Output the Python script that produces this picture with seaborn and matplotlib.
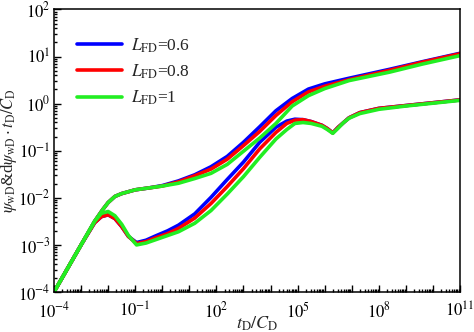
import numpy as np
import pandas as pd
import matplotlib
matplotlib.use("Agg")
import matplotlib.pyplot as plt
import seaborn as sns
from matplotlib.ticker import FixedLocator, FixedFormatter, LogLocator, NullFormatter

sns.set_style("white")
plt.rcParams['font.family'] = ['Liberation Serif', 'DejaVu Serif']
plt.rcParams['mathtext.fontset'] = 'stix'

# ---- data (log10 values) ----
L_values = ["0.6", "0.8", "1"]
colors = ["#0000ff", "#ff0000", "#22ee22"]

p_tlog = [-4, -3, -2.5, -2.2, -2.0, -1.75, -1.5, -1.25, -1.0, -0.5, 0.0, 0.6,
          1.2, 1.8, 2.4, 3.0, 3.6, 4.2, 4.8, 5.4, 6.0, 6.9, 8.4, 9.6, 11.0]
p_06 = [-4, -3, -2.5, -2.25, -2.10, -1.97, -1.91, -1.87, -1.83, -1.79, -1.74, -1.64,
        -1.51, -1.34, -1.12, -0.82, -0.49, -0.15, 0.11, 0.31, 0.42, 0.54, 0.73, 0.89, 1.07]
p_08 = [-4, -3, -2.5, -2.25, -2.10, -1.97, -1.91, -1.87, -1.83, -1.79, -1.75, -1.66,
        -1.53, -1.39, -1.18, -0.89, -0.59, -0.25, 0.04, 0.25, 0.37, 0.51, 0.71, 0.88, 1.06]
p_10 = [-4, -3, -2.5, -2.25, -2.10, -1.97, -1.91, -1.87, -1.83, -1.79, -1.75, -1.69,
        -1.59, -1.48, -1.29, -1.01, -0.73, -0.42, -0.05, 0.17, 0.32, 0.49, 0.67, 0.84, 1.02]

d_tlog = [-4, -3, -2.5, -2.25, -2.0, -1.75, -1.5, -1.25, -0.95, -0.6, -0.25, 0.2, 0.6,
          1.2, 1.8, 2.4, 3.0, 3.6, 4.2, 4.6, 4.9, 5.2, 5.5, 5.9, 6.1, 6.3, 6.5, 6.7,
          6.9, 7.3, 8.0, 9.0, 10.0, 11.0]
d_06 = [-4, -3, -2.53, -2.40, -2.36, -2.44, -2.61, -2.82, -2.95, -2.90, -2.81, -2.70, -2.58,
        -2.34, -1.99, -1.61, -1.24, -0.82, -0.50, -0.37, -0.33, -0.34, -0.38, -0.46, -0.53,
        -0.62, -0.50, -0.40, -0.30, -0.19, -0.10, -0.04, 0.02, 0.08]
d_08 = [-4, -3, -2.53, -2.40, -2.36, -2.44, -2.61, -2.82, -2.97, -2.93, -2.85, -2.76, -2.65,
        -2.43, -2.12, -1.76, -1.38, -0.96, -0.61, -0.42, -0.35, -0.34, -0.38, -0.46, -0.53,
        -0.62, -0.50, -0.40, -0.30, -0.19, -0.10, -0.04, 0.02, 0.08]
d_10 = [-4, -3, -2.50, -2.33, -2.29, -2.38, -2.56, -2.80, -3.00, -2.96, -2.89, -2.80, -2.72,
        -2.54, -2.27, -1.92, -1.55, -1.14, -0.75, -0.55, -0.42, -0.40, -0.42, -0.48, -0.55,
        -0.63, -0.52, -0.40, -0.31, -0.21, -0.12, -0.05, 0.01, 0.07]

xticks_log = list(range(-4, 12))
xlabel_log = [-4, -1, 2, 5, 8, 11]
yticks_log = list(range(-4, 3))

# ---- build long table ----
rows = []
for L, p, d in zip(L_values, [p_06, p_08, p_10], [d_06, d_08, d_10]):
    for t, v in zip(p_tlog, p):
        rows.append((10.0 ** t, 10.0 ** v, L, L + "_p"))
    for t, v in zip(d_tlog, d):
        rows.append((10.0 ** t, 10.0 ** v, L, L + "_d"))
df = pd.DataFrame(rows, columns=["t", "v", "L", "curve"])

fig = plt.figure(figsize=(4.74, 3.32), dpi=100)
ax = fig.add_axes([54 / 474, 1 - 292 / 332, (460 - 54) / 474, (292 - 9.5) / 332])

sns.lineplot(data=df, x="t", y="v", hue="L", units="curve", estimator=None, sort=False,
             palette=dict(zip(L_values, colors)), hue_order=L_values, linewidth=2.6, ax=ax)

ax.set_xscale("log")
ax.set_yscale("log")
ax.set_xlim(1e-4, 1e11)
ax.set_ylim(1e-4, 1e2)

ax.xaxis.set_major_locator(FixedLocator([10.0 ** k for k in xticks_log]))
ax.xaxis.set_major_formatter(FixedFormatter(
    [r"$10^{%d}$" % k if k in xlabel_log else "" for k in xticks_log]))
ax.xaxis.set_minor_locator(LogLocator(base=10, subs=np.arange(2, 10), numticks=100))
ax.xaxis.set_minor_formatter(NullFormatter())
ax.yaxis.set_major_locator(FixedLocator([10.0 ** k for k in yticks_log]))
ax.yaxis.set_major_formatter(FixedFormatter([r"$10^{%d}$" % k for k in yticks_log]))
ax.yaxis.set_minor_locator(LogLocator(base=10, subs=np.arange(2, 10), numticks=100))
ax.yaxis.set_minor_formatter(NullFormatter())

ax.tick_params(which="both", direction="in", top=False, right=False, bottom=True, left=True,
               labelsize=12, width=1.0, colors="black")
ax.tick_params(which="major", length=5)
ax.tick_params(which="minor", length=2.5)
ax.tick_params(axis="x", which="major", pad=7)
ax.tick_params(axis="y", which="major", pad=2.5)
for s in ax.spines.values():
    s.set_color("black")
    s.set_linewidth(1.1)

ax.set_xlabel(r"$t_{\rm D}/C_{\rm D}$", fontsize=13, labelpad=-5)
ax.set_ylabel(r"$\psi_{\rm wD}$&d$\psi_{\rm wD}\cdot t_{\rm D}/C_{\rm D}$", fontsize=12)
ax.yaxis.set_label_coords(-0.085, 0.5)

handles, _ = ax.get_legend_handles_labels()
ax.legend(handles[:3], [r"$L_{\rm FD}$=" + v for v in L_values], loc="upper left",
          bbox_to_anchor=(0.04, 0.93), frameon=False, fontsize=12.5, handlelength=2.6,
          labelspacing=0.45, handletextpad=0.5, borderaxespad=0)

fig.savefig("out.png", dpi=100)
